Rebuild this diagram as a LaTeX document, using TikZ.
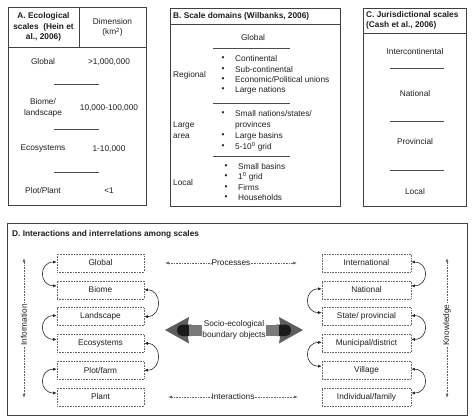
\documentclass[tikz,border=0pt]{standalone}
\usepackage{fontspec}
\setmainfont{Liberation Sans}
\usetikzlibrary{arrows.meta}
\definecolor{txt}{HTML}{1E1E1E}
\definecolor{headc}{HTML}{5E5E5E}
\definecolor{shaftc}{HTML}{7A7A7A}
\definecolor{blobc}{HTML}{1A1A1A}
\begin{document}
\begin{tikzpicture}[x=1pt,y=-1pt,
  every node/.style={font=\fontsize{8.3}{10.4}\selectfont, text=txt, inner sep=0pt},
  ttl/.style={font=\fontsize{8.3}{10.6}\selectfont\bfseries},
  frame/.style={draw=black!75, line width=0.7pt},
  sepline/.style={draw=black!70, line width=0.9pt},
  scalebox/.style={draw=black!60, densely dotted, line width=0.6pt, minimum height=18pt},
  lbox/.style={scalebox, minimum width=87pt},
  rbox/.style={scalebox, minimum width=89pt},
  dotarrow/.style={draw=black!60, densely dotted, line width=0.6pt, {Latex[length=4pt,width=3pt]}-{Latex[length=4pt,width=3pt]}},
  dotone/.style={draw=black!60, densely dotted, line width=0.6pt, -{Latex[length=4pt,width=3pt]}},
  curv/.style={draw=black!85, line width=0.6pt, {Latex[length=3.5pt,width=3pt]}-{Latex[length=3.5pt,width=3pt]}},
  vlabel/.style={rotate=90, fill=white, inner sep=1pt}
]
\useasboundingbox (0,0) rectangle (474,420);

% ---------------- Panel A ----------------
\draw[frame] (8,7) rectangle (146,205);
\draw[frame] (8,47) -- (146,47);
\draw[frame] (79,7) -- (79,47);
\node[ttl, align=center] (atitle) at (43.5,27) {A. Ecological\\scales\ \ (Hein et\\al., 2006)};
\node[align=center] (adim) at (112.5,27.5) {Dimension\\(km\textsuperscript{2})};
\node (a1) at (43,62) {Global};
\node (a1v) at (109,62) {>1,000,000};
\draw[sepline] (54,84) -- (99,84);
\node[align=center] (a2) at (43,108) {Biome/\\landscape};
\node (a2v) at (109,108) {10,000-100,000};
\draw[sepline] (54,129) -- (99,129);
\node (a3) at (43,149) {Ecosystems};
\node (a3v) at (109,149) {1-10,000};
\draw[sepline] (54,172) -- (99,172);
\node (a4) at (43,191) {Plot/Plant};
\node (a4v) at (109,191) {<1};

% ---------------- Panel B ----------------
\draw[frame] (170,8) rectangle (340,206);
\draw[frame] (170,24) -- (340,24);
\node[ttl, anchor=west] (btitle) at (173,16.5) {B. Scale domains (Wilbanks, 2006)};
\node (bglobal) at (253,38) {Global};
\draw[sepline] (213,48) -- (290,48);
\node[anchor=west] (breg) at (173,75) {Regional};
\node (bb1) at (223,59) {\textbullet};
\node[anchor=west] (b1) at (235,59) {Continental};
\node (bb2) at (223,70) {\textbullet};
\node[anchor=west] (b2) at (235,70) {Sub-continental};
\node (bb3) at (223,80) {\textbullet};
\node[anchor=west] (b3) at (235,80) {Economic/Political unions};
\node (bb4) at (223,90) {\textbullet};
\node[anchor=west] (b4) at (235,90) {Large nations};
\draw[sepline] (213,103) -- (290,103);
\node[anchor=west, align=left] (blarge) at (173,130) {Large\\area};
\node (bb5) at (223,114) {\textbullet};
\node[anchor=west] (b5) at (235,114) {Small nations/states/};
\node[anchor=west] (b5b) at (235,125) {provinces};
\node (bb6) at (223,136) {\textbullet};
\node[anchor=west] (b6) at (235,136) {Large basins};
\node (bb7) at (223,147) {\textbullet};
\node[anchor=west] (b7) at (235,147) {5-10\textsuperscript{0} grid};
\draw[sepline] (213,156) -- (290,156);
\node[anchor=west] (blocal) at (173,183) {Local};
\node (bb8) at (226,167) {\textbullet};
\node[anchor=west] (b8) at (238,167) {Small basins};
\node (bb9) at (226,177) {\textbullet};
\node[anchor=west] (b9) at (238,177) {1\textsuperscript{0} grid};
\node (bb10) at (226,187.5) {\textbullet};
\node[anchor=west] (b10) at (238,187.5) {Firms};
\node (bb11) at (226,198) {\textbullet};
\node[anchor=west] (b11) at (238,198) {Households};

% ---------------- Panel C ----------------
\draw[frame] (363,8) rectangle (466,206);
\draw[frame] (363,33) -- (466,33);
\node[ttl, anchor=west, align=left] (ctitle) at (366,20.5) {C. Jurisdictional scales\\(Cash et al., 2006)};
\node (c1) at (415,52) {Intercontinental};
\draw[sepline] (390,68) -- (444,68);
\node (c2) at (415,94) {National};
\draw[sepline] (390,121) -- (444,121);
\node (c3) at (415,142) {Provincial};
\draw[sepline] (390,170) -- (444,170);
\node (c4) at (415,192) {Local};

% ---------------- Panel D ----------------
\draw[frame] (7,223) rectangle (467,415);
\node[ttl, anchor=west] (dtitle) at (12,234) {D. Interactions and interrelations among scales};

\node[lbox] (l1) at (100.5,263) {Global};
\node[lbox] (l2) at (100.5,289.8) {Biome};
\node[lbox] (l3) at (100.5,316.6) {Landscape};
\node[lbox] (l4) at (100.5,343.4) {Ecosystems};
\node[lbox] (l5) at (100.5,370.2) {Plot/farm};
\node[lbox] (l6) at (100.5,397) {Plant};

\node[rbox] (r1) at (366.5,263) {International};
\node[rbox] (r2) at (366.5,289.8) {National};
\node[rbox] (r3) at (366.5,316.6) {State/ provincial};
\node[rbox] (r4) at (366.5,343.4) {Municipal/district};
\node[rbox] (r5) at (366.5,370.2) {Village};
\node[rbox] (r6) at (366.5,397) {Individual/family};

% curved links, left column
\draw[curv] ([yshift=1pt]l1.west) .. controls +(-18,0) and +(-18,0) .. ([yshift=4pt]l2.west);
\draw[curv] (l2.east) .. controls +(18,0) and +(18,0) .. (l3.east);
\draw[curv] ([yshift=1pt]l3.west) .. controls +(-18,0) and +(-18,0) .. ([yshift=4pt]l4.west);
\draw[curv] (l4.east) .. controls +(18,0) and +(18,0) .. (l5.east);
\draw[curv] ([yshift=1pt]l5.west) .. controls +(-18,0) and +(-18,0) .. ([yshift=4pt]l6.west);
% curved links, right column
\draw[curv] ([yshift=1pt]r1.east) .. controls +(18,0) and +(18,0) .. ([yshift=4pt]r2.east);
\draw[curv] ([yshift=1pt]r2.west) .. controls +(-18,0) and +(-18,0) .. ([yshift=4pt]r3.west);
\draw[curv] ([yshift=1pt]r3.east) .. controls +(18,0) and +(18,0) .. ([yshift=4pt]r4.east);
\draw[curv] ([yshift=1pt]r4.west) .. controls +(-18,0) and +(-18,0) .. ([yshift=4pt]r5.west);
\draw[curv] ([yshift=1pt]r5.east) .. controls +(18,0) and +(18,0) .. ([yshift=4pt]r6.east);

% vertical Information / Knowledge arrows
\coordinate (itop) at (24,258);
\coordinate (ibot) at (24,398);
\draw[dotarrow] (itop) -- (ibot);
\node[vlabel] (info) at (24,325) {Information};
\coordinate (ktop) at (447,258);
\coordinate (kbot) at (447,398);
\draw[dotarrow] (ktop) -- (kbot);
\node[vlabel] (know) at (447,325) {Knowledge};

% Processes / Interactions
\node (proc) at (231,263) {Processes};
\coordinate (pl) at (165,263);
\coordinate (pr) at (297,263);
\draw[dotone] (proc.west) -- (pl);
\draw[dotone] (proc.east) -- (pr);
\node (inter) at (233,397) {Interactions};
\coordinate (il) at (168,397);
\coordinate (ir) at (298,397);
\draw[dotone] (inter.west) -- (il);
\draw[dotone] (inter.east) -- (ir);

% central boundary-objects double arrow
\fill[headc] (165,330) -- (189,317) -- (187,330) -- (189,343.5) -- cycle;
\fill[blobc, rounded corners=5pt] (177,324.5) rectangle (196,336);
\fill[shaftc] (189,324.5) rectangle (202,336);
\fill[headc] (303,330) -- (279,317) -- (281,330) -- (279,343.5) -- cycle;
\fill[blobc, rounded corners=5pt] (272,324.5) rectangle (291,336);
\fill[shaftc] (266,324.5) rectangle (279,336);
\node[align=center] (bo) at (234,330) {Socio-ecological\\boundary objects};
\end{tikzpicture}
\end{document}
